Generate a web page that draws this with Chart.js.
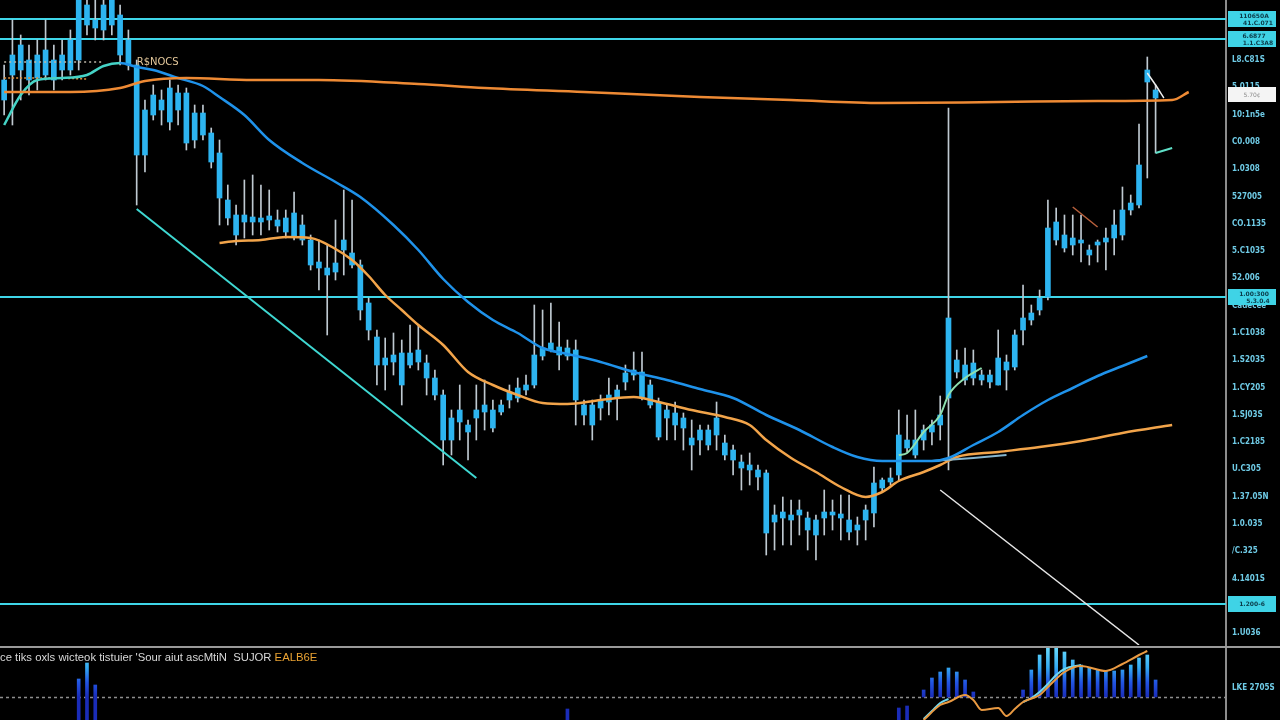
<!DOCTYPE html>
<html><head><meta charset="utf-8">
<script src="https://cdn.jsdelivr.net/npm/chart.js@4.4.1/dist/chart.umd.min.js"></script>
<style>
html,body{margin:0;padding:0;background:#000;overflow:hidden;}
#wrap{position:relative;width:1280px;height:720px;background:#000;}
#main{position:absolute;left:0;top:0;}
#sub{position:absolute;left:0;top:645px;}
</style></head><body>
<div id="wrap"><canvas id="main" width="1280" height="645"></canvas><canvas id="sub" width="1280" height="75"></canvas></div>
<script>
// ---------------- DATA ----------------
const N_CATS = 148;
const categories = Array.from({length: N_CATS}, (_, i) => 'B' + (i + 1));

const open = [
 565,590,600,585,590,595,585,590,575,585,
 640,625,615,645,630,605,580,535,550,545,
 557,552,552,532,532,512,492,445,430,430,
 428,427,429,425,427,432,420,405,383,377,
 382,405,392,380,342,308,287,290,292,292,
 295,282,267,250,227,235,220,235,240,235,
 240,245,247,255,260,289,295,298,289,295,
 240,240,237,243,247,263,270,273,260,243,
 227,232,227,207,205,215,210,202,195,183,
 180,175,172,130,127,130,130,127,125,127,
 130,131,125,120,125,132,157,163,170,205,
 190,205,213,220,247,285,265,267,270,263,
 260,283,278,315,325,335,348,405,410,407,
 402,395,400,403,407,410,435,440,563,555];
const high = [
 580,625,610,600,605,625,600,605,615,645,
 645,645,645,645,640,615,585,545,560,555,
 565,560,557,540,540,517,505,460,440,465,
 470,460,455,435,435,453,430,410,405,400,
 425,455,445,385,347,315,307,312,305,320,
 320,290,275,255,235,260,225,260,265,245,
 245,260,267,270,340,335,342,323,305,305,
 245,245,250,267,260,280,293,293,265,247,
 240,243,232,225,220,220,243,210,200,190,
 192,180,175,140,148,145,145,133,130,155,
 145,150,150,128,140,178,167,177,235,230,
 235,220,225,249,537,295,297,295,275,275,
 315,290,315,360,340,355,445,437,430,430,
 430,400,405,417,435,458,450,521,588,560];
const low = [
 530,520,545,550,555,565,555,565,570,575,
 610,605,605,610,580,575,440,473,525,520,
 515,520,495,497,505,477,420,420,400,407,
 410,410,415,413,407,405,400,375,355,310,
 365,370,377,325,305,260,255,270,240,277,
 275,250,245,180,190,205,185,205,215,213,
 230,237,243,250,257,285,293,275,285,220,
 220,205,225,230,225,255,265,245,237,205,
 205,205,195,175,190,195,195,185,170,155,
 160,155,90,95,100,100,110,95,85,110,
 115,105,105,100,105,118,153,160,165,193,
 187,195,200,205,175,267,260,260,260,257,
 260,255,275,300,320,330,345,400,393,390,
 383,380,383,375,390,405,430,437,467,492];
const close = [
 545,570,575,565,567,570,565,575,605,645,
 620,617,640,620,590,580,490,490,530,535,
 523,535,502,505,510,483,447,427,410,423,
 423,423,425,419,413,408,405,380,377,370,
 373,395,380,335,315,280,280,283,260,280,
 283,267,250,205,205,223,213,227,233,217,
 233,253,257,260,290,297,302,290,297,245,
 230,220,245,250,255,272,275,247,240,208,
 235,220,217,200,215,200,227,190,185,177,
 175,168,112,123,133,125,135,115,110,133,
 133,127,113,115,135,162,165,167,210,197,
 205,215,220,230,327,273,280,282,265,270,
 287,275,310,327,332,347,417,423,397,400,
 405,390,403,407,420,435,442,480,575,547];

// moving averages / drawn lines: [category index, value]
const blueMA = [[0,520],[2,550],[4,565],[7,567],[10,570],[12,579],[14,582],[16,578],[18,575],[21,567],[24,559],[26,548],[29,530],[32,505],[36,482],[40,463],[43,448],[47,420],[50,395],[53,366],[56,343],[59,325],[62,312],[65,297],[68,291],[72,283],[76,273],[80,265],[84,256],[88,247],[92,230],[96,215],[100,198],[103,188],[106,184],[109,184],[112,184],[114,187],[117,200],[120,213],[123,230],[126,245],[129,257],[132,269],[135,279],[138,289]];
const orangeMA = [[26,402],[28,404],[31,405],[34,408],[37,407],[40,396],[42,385],[44,369],[46,350],[48,335],[50,320],[53,300],[56,273],[59,260],[62,250],[65,242],[68,241],[72,245],[76,248],[79,243],[83,235],[87,228],[90,220],[92,205],[95,187],[98,173],[101,158],[104,148],[106,153],[108,164],[111,173],[113,180],[115,188],[120,193],[125,198],[130,204],[135,212],[141,220]];
const longMA = [[0,553],[8,553],[14,557],[17,564],[22,567],[30,565],[38,565],[50,561],[58,557],[70,553],[84,548],[95,545],[106,542],[120,543],[132,544],[141,545],[143,553]];
const dottedOrange = [[0,567],[5,567],[10,566]];
const dottedGrey = [[0,583],[12,583]];
const fastMA = [[108,190],[109,192],[111,213],[113,230],[114,250],[116,267],[118,277]];
const paleFlat = [[112,184],[117,187],[121,190]];
const cyanStub = [[139,492],[141,497]];
const brownStub = [[129,438],[132,418]];
const whiteHook = [[138,572],[139,560],[140,547]];
const channelLine = [[16,436],[57,167]];
const whiteDiag = [[113,155],[137,0]];
const levels = [626,606,348,41];
const levelText = [["110650A","41.C.071"],["6.6877","1.1.C3A8"],["1.00:300","5.3.0.4"],["1.200-6"]];
const markerValue = 550; const markerText = "5.70¢";

const tickValues = [585,558,530,503,476,448,421,394,367,339,312,285,257,230,203,176,148,121,94,66,39,12];
const tickLabels = ["L8.C81S","5.0115","10:1n5e","C0.008","1.0308","527005","CO.1135","5.C1035","52.006","Cadecee","1.C1038","1.S2035","1.CY205","1.SJ03S","1.C2185","U.C305","1.37.05N","1.0.035","/C.325","4.1401S","1.2C05","1.U036"];

// lower panel
const histBars = [[9,-23,18],[10,-23,34],[11,-23,12],[68,-23,-12],[108,-23,-11],[109,-23,-9],[111,0,7],[112,0,19],[113,0,25],[114,0,29],[115,0,25],[116,0,17],[117,0,5],[123,0,7],[124,0,27],[125,0,42],[126,0,50],[127,0,50],[128,0,45],[129,0,37],[130,0,32],[131,0,29],[132,0,27],[133,0,26],[134,0,26],[135,0,27],[136,0,32],[137,0,39],[138,0,42],[139,0,17]];
const signalLine = [[111,-23],[113,-8],[114,-5],[116,2],[117,-3],[118,-13],[120,-11],[121,-19],[122,-12],[123,-5],[125,2],[126,10],[128,25],[130,31],[133,26],[135,33],[137,42],[138,46]];
const macdA = [[111,-22],[112,-14],[113,-6],[114,-2]];
const macdB = [[123,-5],[124,-1],[125,5],[126,13],[127,22],[128,28],[130,32]];
const subTickValues = [9];
const subTickLabels = ["LKE 2705S"];
const panelCaption = "ce tiks oxls wicteok tistuier 'Sour aiut ascMtiN  SUJOR";
const panelCaptionTag = "EALB6E";
const chartTag = "R$NOCS";

// ---------------- HELPERS ----------------
const pts = pairs => pairs.map(([i, v]) => ({x: categories[i], y: v}));
function lineDS(pairs, color, width, extra) {
  return Object.assign({type: 'line', data: pts(pairs), borderColor: color, borderWidth: width,
    pointRadius: 0, fill: false, spanGaps: true, cubicInterpolationMode: 'monotone', order: 1}, extra || {});
}
function zeroPad(scale) { scale.paddingTop = 0; scale.paddingBottom = 0; scale.paddingLeft = 0; scale.paddingRight = 0; }
const axisFont = {size: 8, weight: 'bold', family: "'DejaVu Sans Condensed', 'DejaVu Sans', sans-serif"};

Chart.defaults.animation = false;
Chart.defaults.font.family = "'DejaVu Sans', sans-serif";

// ---------------- MAIN CHART ----------------
const mainOverlay = {
  id: 'mainOverlay',
  beforeDatasetsDraw(chart) {
    const {ctx, chartArea: a, scales: {y}} = chart;
    ctx.save();
    ctx.strokeStyle = '#3fd6e8'; ctx.lineWidth = 2;
    levels.forEach(v => {
      const py = Math.round(y.getPixelForValue(v));
      ctx.beginPath(); ctx.moveTo(a.left, py); ctx.lineTo(a.right, py); ctx.stroke();
    });
    ctx.restore();
  },
  afterDraw(chart) {
    const {ctx, chartArea: a, scales: {x, y}} = chart;
    ctx.save();
    const bx = a.right + 2, bw = 48;
    levels.forEach((v, k) => {
      const py = y.getPixelForValue(v);
      ctx.fillStyle = '#3fd3e6';
      ctx.fillRect(bx, py - 8, bw, 16);
      ctx.fillStyle = '#0b3a48';
      ctx.font = "bold 6px 'DejaVu Sans'";
      ctx.textAlign = 'center'; ctx.textBaseline = 'middle';
      const lines = levelText[k];
      if (lines.length === 2) {
        ctx.fillText(lines[0], bx + bw / 2 + 2, py - 3);
        ctx.fillText(lines[1], bx + bw / 2 + 6, py + 4);
      } else {
        ctx.fillText(lines[0], bx + bw / 2, py);
      }
    });
    const my = y.getPixelForValue(markerValue);
    ctx.fillStyle = '#f4f4f4';
    ctx.fillRect(bx, my - 8, bw, 15);
    ctx.fillStyle = '#8a8a8a'; ctx.font = "6px 'DejaVu Sans'";
    ctx.textAlign = 'center'; ctx.textBaseline = 'middle';
    ctx.fillText(markerText, bx + bw / 2, my);
    ctx.fillStyle = '#e3c79a'; ctx.font = "10px 'DejaVu Sans'";
    ctx.textAlign = 'left';
    ctx.fillText(chartTag, x.getPixelForValue(16), y.getPixelForValue(583));
    ctx.restore();
  }
};

new Chart(document.getElementById('main'), {
  type: 'bar',
  data: {
    labels: categories,
    datasets: [
      {type: 'bar', data: high.map((h, i) => [low[i], h]), backgroundColor: '#bfc9d1', barThickness: 1, grouped: false, order: 10},
      {type: 'bar', data: open.map((o, i) => [o, close[i]]), backgroundColor: '#2db4f0', barThickness: 5, grouped: false, order: 9},
      lineDS(dottedGrey, '#bcb6a8', 1.5, {borderDash: [2, 3], order: 3}),
      lineDS(dottedOrange, '#e0903c', 1.5, {borderDash: [2, 2], order: 3}),
      lineDS(longMA, '#ee8a34', 2.5, {order: 2}),
      lineDS(blueMA, '#1f92ea', 2.5, {order: 2, segment: {borderColor: c => c.p0.parsed.x < 14 ? '#45d3c6' : '#1f92ea'}}),
      lineDS(paleFlat, '#86b6d0', 2, {order: 2}),
      lineDS(orangeMA, '#f2a44a', 2.5, {order: 2}),
      lineDS(fastMA, '#8fe0b0', 2, {order: 1}),
      lineDS(cyanStub, '#5fe0c8', 2, {order: 1}),
      lineDS(brownStub, '#b8603c', 1.5, {order: 1}),
      lineDS(whiteHook, '#eeeeee', 1.5, {order: 1}),
      lineDS(channelLine, '#3fd8d2', 2, {order: 1, cubicInterpolationMode: 'default', tension: 0}),
      lineDS(whiteDiag, '#e6e6e6', 1.5, {order: 1, cubicInterpolationMode: 'default', tension: 0})
    ]
  },
  options: {
    responsive: false, maintainAspectRatio: false, devicePixelRatio: 1,
    layout: {padding: 0},
    plugins: {legend: {display: false}, tooltip: {enabled: false}},
    scales: {
      x: {type: 'category', display: false, offset: true, grid: {display: false}},
      y: {
        position: 'right', min: 0, max: 645,
        grid: {display: false, drawTicks: false},
        border: {display: true, color: '#8c8c8c', width: 2},
        afterBuildTicks: s => { s.ticks = tickValues.map(v => ({value: v})); },
        afterFit: s => { s.width = 54; zeroPad(s); },
        ticks: {
          autoSkip: false, padding: 6, color: '#6fcbe6', font: axisFont,
          callback: (val) => tickLabels[tickValues.indexOf(val)]
        }
      }
    }
  },
  plugins: [mainOverlay]
});

// ---------------- LOWER PANEL ----------------
const subOverlay = {
  id: 'subOverlay',
  beforeDatasetsDraw(chart) {
    const {ctx, chartArea: a, scales: {y}} = chart;
    ctx.save();
    ctx.strokeStyle = '#8e8e8e'; ctx.lineWidth = 1.5; ctx.setLineDash([3, 3]);
    const py = Math.round(y.getPixelForValue(0)) + 0.5;
    ctx.beginPath(); ctx.moveTo(a.left, py); ctx.lineTo(a.right, py); ctx.stroke();
    ctx.restore();
  },
  afterDraw(chart) {
    const {ctx} = chart;
    ctx.save();
    ctx.strokeStyle = '#9a9a9a'; ctx.lineWidth = 2;
    ctx.beginPath(); ctx.moveTo(0, 2); ctx.lineTo(1280, 2); ctx.stroke();
    ctx.font = "11.3px 'Liberation Sans', Arial";
    ctx.textBaseline = 'middle'; ctx.textAlign = 'left';
    ctx.fillStyle = '#d8d8d8';
    ctx.fillText(panelCaption, 0, 13);
    const w = ctx.measureText(panelCaption + ' ').width;
    ctx.fillStyle = '#e9a232';
    ctx.fillText(panelCaptionTag, w, 13);
    ctx.restore();
  }
};

new Chart(document.getElementById('sub'), {
  type: 'bar',
  data: {
    labels: categories,
    datasets: [
      {type: 'bar', data: histBars.map(([i, a, b]) => ({x: categories[i], y: [a, b]})), barThickness: 3, grouped: false, order: 5,
        backgroundColor: c => {
          const {ctx, chartArea} = c.chart;
          if (!chartArea) return '#1e40d0';
          const g = ctx.createLinearGradient(0, chartArea.top, 0, chartArea.bottom);
          g.addColorStop(0, '#6fe2ff'); g.addColorStop(0.3, '#33aaf2');
          g.addColorStop(0.5, '#2254e2'); g.addColorStop(0.7, '#1a2cb8'); g.addColorStop(1, '#1a2cb8');
          return g;
        }},
      lineDS(signalLine, '#ea9a42', 2, {order: 1}),
      lineDS(macdA, '#6fd8f0', 2, {order: 2}),
      lineDS(macdB, '#6fd8f0', 2, {order: 2})
    ]
  },
  options: {
    responsive: false, maintainAspectRatio: false, devicePixelRatio: 1,
    layout: {padding: 0},
    plugins: {legend: {display: false}, tooltip: {enabled: false}},
    scales: {
      x: {type: 'category', display: false, offset: true},
      y: {
        position: 'right', min: -23, max: 52,
        grid: {display: false, drawTicks: false},
        border: {display: true, color: '#8c8c8c', width: 2},
        afterBuildTicks: s => { s.ticks = subTickValues.map(v => ({value: v})); },
        afterFit: s => { s.width = 54; zeroPad(s); },
        ticks: {autoSkip: false, padding: 6, color: '#6fcbe6', font: axisFont,
          callback: (val) => subTickLabels[subTickValues.indexOf(val)]}
      }
    }
  },
  plugins: [subOverlay]
});
</script>
</body></html>
